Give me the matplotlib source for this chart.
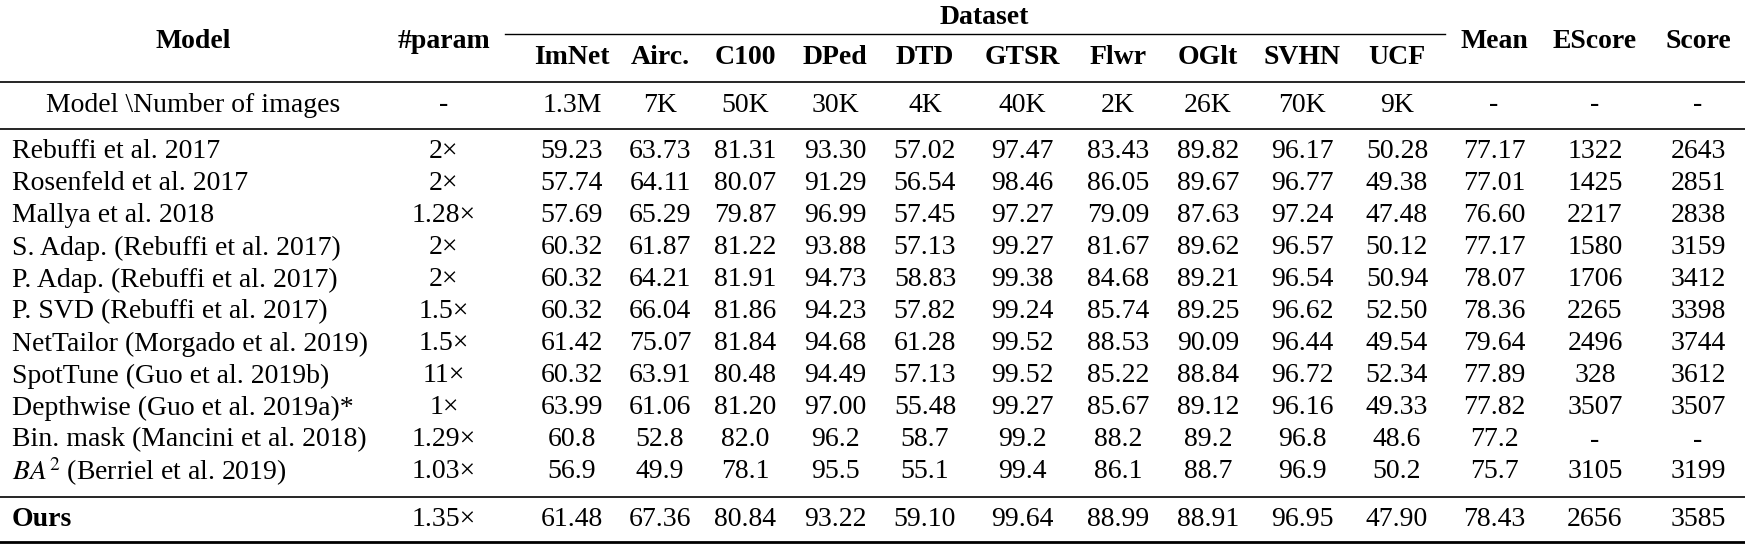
import matplotlib.pyplot as plt

plt.rcParams['font.family'] = ['Liberation Serif', 'DejaVu Serif']
plt.rcParams['mathtext.fontset'] = 'stix'

datasets = ['ImNet', 'Airc.', 'C100', 'DPed', 'DTD', 'GTSR', 'Flwr', 'OGlt', 'SVHN', 'UCF']
n_images = ['1.3M', '7K', '50K', '30K', '4K', '40K', '2K', '26K', '70K', '9K']
models = ['Rebuffi et al. 2017', 'Rosenfeld et al. 2017', 'Mallya et al. 2018',
          'S. Adap. (Rebuffi et al. 2017)', 'P. Adap. (Rebuffi et al. 2017)',
          'P. SVD (Rebuffi et al. 2017)', 'NetTailor (Morgado et al. 2019)',
          'SpotTune (Guo et al. 2019b)', 'Depthwise (Guo et al. 2019a)*',
          'Bin. mask (Mancini et al. 2018)', '$BA^2$ (Berriel et al. 2019)']
params = ['2×', '2×', '1.28×', '2×', '2×', '1.5×', '1.5×', '11×', '1×', '1.29×', '1.03×']
scores = [
    ['59.23', '63.73', '81.31', '93.30', '57.02', '97.47', '83.43', '89.82', '96.17', '50.28', '77.17', '1322', '2643'],
    ['57.74', '64.11', '80.07', '91.29', '56.54', '98.46', '86.05', '89.67', '96.77', '49.38', '77.01', '1425', '2851'],
    ['57.69', '65.29', '79.87', '96.99', '57.45', '97.27', '79.09', '87.63', '97.24', '47.48', '76.60', '2217', '2838'],
    ['60.32', '61.87', '81.22', '93.88', '57.13', '99.27', '81.67', '89.62', '96.57', '50.12', '77.17', '1580', '3159'],
    ['60.32', '64.21', '81.91', '94.73', '58.83', '99.38', '84.68', '89.21', '96.54', '50.94', '78.07', '1706', '3412'],
    ['60.32', '66.04', '81.86', '94.23', '57.82', '99.24', '85.74', '89.25', '96.62', '52.50', '78.36', '2265', '3398'],
    ['61.42', '75.07', '81.84', '94.68', '61.28', '99.52', '88.53', '90.09', '96.44', '49.54', '79.64', '2496', '3744'],
    ['60.32', '63.91', '80.48', '94.49', '57.13', '99.52', '85.22', '88.84', '96.72', '52.34', '77.89', '328', '3612'],
    ['63.99', '61.06', '81.20', '97.00', '55.48', '99.27', '85.67', '89.12', '96.16', '49.33', '77.82', '3507', '3507'],
    ['60.8', '52.8', '82.0', '96.2', '58.7', '99.2', '88.2', '89.2', '96.8', '48.6', '77.2', '-', '-'],
    ['56.9', '49.9', '78.1', '95.5', '55.1', '99.4', '86.1', '88.7', '96.9', '50.2', '75.7', '3105', '3199'],
]
ours_param = '1.35×'
ours = ['61.48', '67.36', '80.84', '93.22', '59.10', '99.64', '88.99', '88.91', '96.95', '47.90', '78.43', '2656', '3585']

W, H = 1745, 545
fig = plt.figure(figsize=(W / 100, H / 100), dpi=100)
ax = fig.add_axes([0, 0, 1, 1])
ax.set_xlim(0, W)
ax.set_ylim(H, 0)
ax.axis('off')

fs = 20
col_x = [572, 660, 745, 835, 925, 1022, 1118, 1208, 1302, 1397, 1494, 1595, 1698]
model_x, param_x = 12, 444

def t(x, y, s, ha='center', bold=False):
    ax.text(x, y, s, ha=ha, va='center', fontsize=fs, fontweight='bold' if bold else 'normal')

# header
t(193, 42, 'Model', bold=True)
t(param_x, 42, '#param', bold=True)
t((col_x[0] + col_x[9]) / 2, 17, 'Dataset', bold=True)
ax.plot([505, 1445], [34, 34], color='black', lw=1)
for x, name in zip(col_x, datasets):
    t(x, 58, name, bold=True)
for x, name in zip(col_x[10:], ['Mean', 'EScore', 'Score']):
    t(x, 42, name, bold=True)
ax.plot([0, W], [82, 82], color='black', lw=1.2)

# number of images row
t(193, 105, 'Model \\Number of images')
t(param_x, 105, '-')
for x, s in zip(col_x, n_images + ['-', '-', '-']):
    t(x, 105, s)
ax.plot([0, W], [129, 129], color='black', lw=1.2)

# model rows
for i, (m, p, row) in enumerate(zip(models, params, scores)):
    y = 152 + i * 32
    t(model_x, y, m, ha='left')
    t(param_x, y, p)
    for x, s in zip(col_x, row):
        t(x, y, s)
ax.plot([0, W], [497, 497], color='black', lw=1.2)

t(model_x, 519, 'Ours', ha='left', bold=True)
t(param_x, 519, ours_param)
for x, s in zip(col_x, ours):
    t(x, 519, s)
ax.plot([0, W], [542, 542], color='black', lw=2)

fig.savefig('out.png', dpi=100)
